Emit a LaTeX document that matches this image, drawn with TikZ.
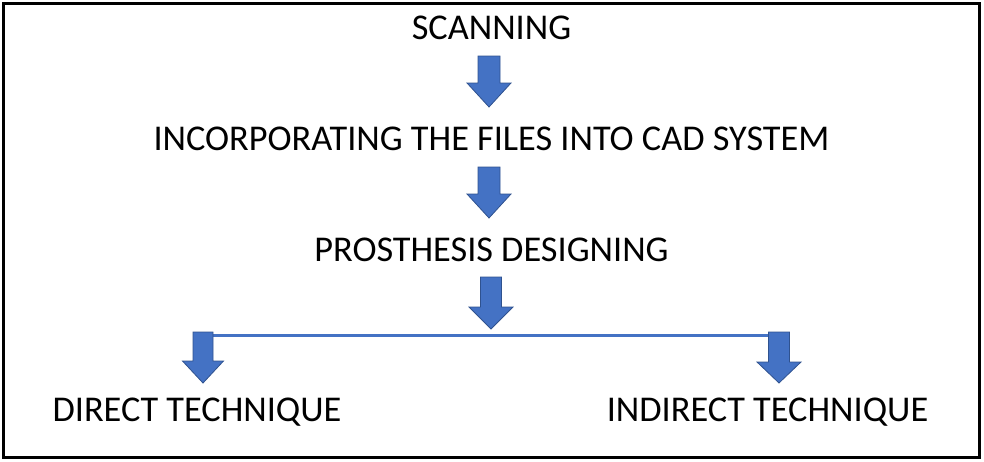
\documentclass[tikz,border=0pt]{standalone}
\usepackage{fontspec}
\setmainfont{Carlito}
\definecolor{arrfill}{HTML}{4472C4}
\definecolor{arrdraw}{HTML}{2F528F}
\newcommand\barrow[6]{% x, ytop, yheadstart, ytip, shaft half width, head half width
  \draw[barrowstyle] (#1-#5,#2) -- (#1+#5,#2) -- (#1+#5,#3) -- (#1+#6,#3) -- (#1,#4)
    -- (#1-#6,#3) -- (#1-#5,#3) -- cycle;}
\tikzset{
  barrowstyle/.style={fill=arrfill, draw=arrdraw, line width=0.8pt, line join=miter},
  lbl/.style={anchor=base, inner sep=0pt, font=\fontsize{36.3}{42}\selectfont},
  frame/.style={draw=black, line width=3.5pt},
  bar/.style={draw=arrfill, line width=3pt}
}
\begin{document}
\begin{tikzpicture}[x=1pt,y=-1pt]
\useasboundingbox (0,0) rectangle (984,461);
\draw[frame] (3.5,3.5) rectangle (979.5,457.5);
\node[lbl] (scan) at (491.5,39.5) {SCANNING};
\node[lbl] (inc) at (491.5,150.5) {INCORPORATING THE FILES INTO CAD SYSTEM};
\node[lbl] (pros) at (491.5,261.5) {PROSTHESIS DESIGNING};
\node[lbl] (dir) at (197,421.5) {DIRECT TECHNIQUE};
\node[lbl] (indir) at (767.5,421.5) {INDIRECT TECHNIQUE};
\barrow{489}{56}{83}{107}{11}{22}
\barrow{489}{167}{194}{218}{11}{22}
\barrow{491}{277}{307}{329}{10.5}{22}
\coordinate (bl) at (203,335.5);
\coordinate (br) at (779,335.5);
\draw[bar] (bl) -- (br);
\barrow{203}{332}{361}{383}{10}{20.5}
\barrow{779}{332}{362}{383}{10.5}{22}
\end{tikzpicture}
\end{document}
